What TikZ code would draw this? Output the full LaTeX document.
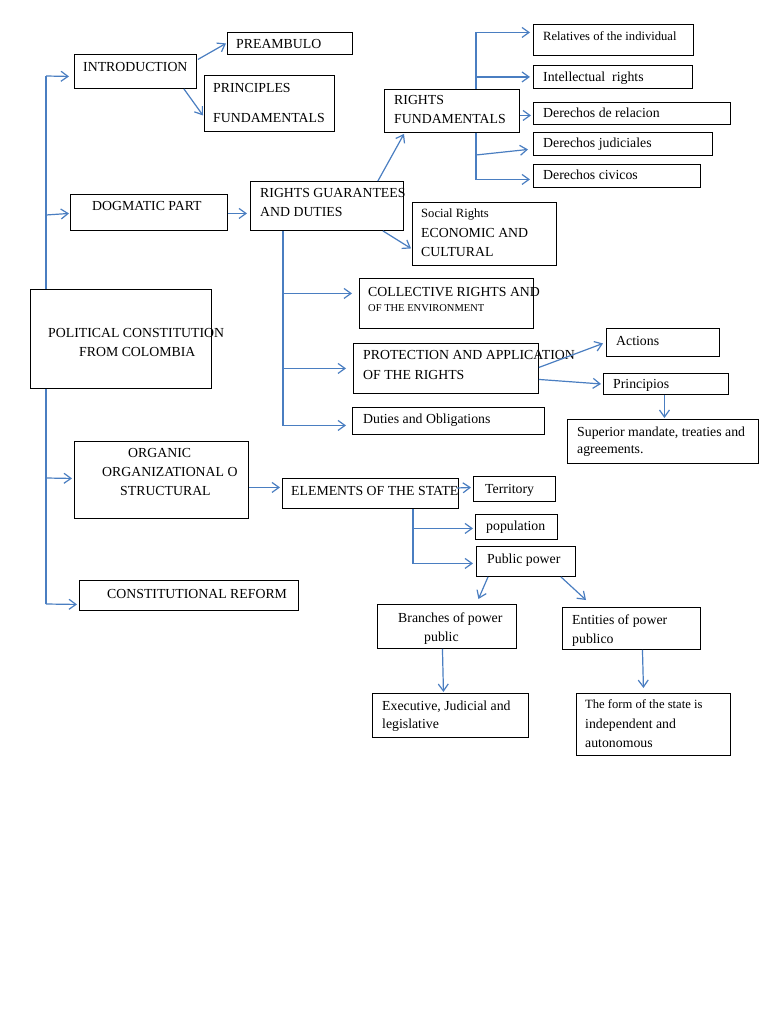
\documentclass[tikz,border=0pt]{standalone}
\usepackage{fontspec}
\setmainfont{Liberation Serif}
\usetikzlibrary{arrows.meta}
\definecolor{conn}{RGB}{74,126,193}
\newcommand\mybox[5]{\node[bx,minimum width=#4pt,minimum height=#5pt] (#1) at (#2,#3) {};}
\begin{document}
\begin{tikzpicture}[x=1pt,y=-1pt,
  bx/.style={draw=black,line width=0.9pt,inner sep=0,anchor=north west},
  txt/.style={font=\fontsize{13.8}{16}\selectfont,inner sep=0,anchor=base west},
  sm/.style={font=\fontsize{12.6}{14}\selectfont,inner sep=0,anchor=base west},
  xs/.style={font=\fontsize{10.5}{12}\selectfont,inner sep=0,anchor=base west},
  ln/.style={draw=conn,line width=1.2pt},
  arr/.style={draw=conn,line width=1.2pt,-{Straight Barb[length=7pt,width=10pt]}}]
\fill[white] (0,0) rectangle (768,1024);
\useasboundingbox (0,0) rectangle (768,1024);
% boxes
\mybox{intro}{74}{54}{122}{34}
\mybox{pream}{227}{32}{125}{22}
\mybox{princ}{204}{75}{130}{56}
\mybox{dogm}{70}{194}{157}{36}
\mybox{rgd}{250}{181}{153}{49}
\mybox{rfund}{384}{89}{135}{43}
\mybox{rel}{533}{24}{160}{31}
\mybox{intel}{533}{65}{159}{23}
\mybox{drel}{533}{102}{197}{22}
\mybox{djud}{533}{132}{179}{23}
\mybox{dciv}{533}{164}{167}{23}
\mybox{social}{412}{202}{144}{63}
\mybox{coll}{359}{278}{174}{50}
\mybox{prot}{353}{343}{185}{50}
\mybox{duties}{352}{407}{192}{27}
\mybox{actions}{606}{328}{113}{28}
\mybox{princip}{603}{373}{125}{21}
\mybox{super}{567}{419}{191}{44}
\mybox{pol}{30}{289}{181}{99}
\mybox{organ}{74}{441}{174}{77}
\mybox{elem}{282}{478}{176}{30}
\mybox{terr}{473}{476}{82}{25}
\mybox{popu}{475}{514}{82}{25}
\mybox{pubp}{476}{546}{99}{30}
\mybox{reform}{79}{580}{219}{30}
\mybox{branch}{377}{604}{139}{44}
\mybox{entit}{562}{607}{138}{42}
\mybox{exec}{372}{693}{156}{44}
\mybox{form}{576}{693}{154}{62}
% texts
\node[txt] (intro-t) at (83,72) {INTRODUCTION};
\node[txt] (pream-t) at (236,49) {PREAMBULO};
\node[txt] (princ-t1) at (213,93) {PRINCIPLES};
\node[txt] (princ-t2) at (213,123) {FUNDAMENTALS};
\node[txt] (dogm-t) at (92,211) {DOGMATIC PART};
\node[txt] (rgd-t1) at (260,198) {RIGHTS GUARANTEES};
\node[txt] (rgd-t2) at (260,217) {AND DUTIES};
\node[txt] (rfund-t1) at (394,105) {RIGHTS};
\node[txt] (rfund-t2) at (394,124) {FUNDAMENTALS};
\node[sm] (rel-t) at (543,41) {Relatives of the individual};
\node[txt] (intel-t) at (543,82) {Intellectual\ \ rights};
\node[txt] (drel-t) at (543,118) {Derechos de relacion};
\node[txt] (djud-t) at (543,148) {Derechos judiciales};
\node[txt] (dciv-t) at (543,180) {Derechos civicos};
\node[sm] (social-t1) at (421,218) {Social Rights};
\node[txt] (social-t2) at (421,237) {ECONOMIC AND};
\node[txt] (social-t3) at (421,256) {CULTURAL};
\node[txt] (coll-t1) at (368,296) {COLLECTIVE RIGHTS AND};
\node[xs] (coll-t2) at (368,311) {OF THE ENVIRONMENT};
\node[txt] (prot-t1) at (363,359) {PROTECTION AND APPLICATION};
\node[txt] (prot-t2) at (363,379) {OF THE RIGHTS};
\node[txt] (duties-t) at (363,423) {Duties and Obligations};
\node[txt] (actions-t) at (616,345) {Actions};
\node[txt] (princip-t) at (613,388) {Principios};
\node[txt] (super-t1) at (577,436) {Superior mandate, treaties and};
\node[txt] (super-t2) at (577,453) {agreements.};
\node[txt] (pol-t1) at (48,337) {POLITICAL CONSTITUTION};
\node[txt] (pol-t2) at (79,356) {FROM COLOMBIA};
\node[txt] (organ-t1) at (128,457) {ORGANIC};
\node[txt] (organ-t2) at (102,476) {ORGANIZATIONAL O};
\node[txt] (organ-t3) at (120,495) {STRUCTURAL};
\node[txt] (elem-t) at (291,495) {ELEMENTS OF THE STATE};
\node[txt] (terr-t) at (485,493) {Territory};
\node[txt] (popu-t) at (486,530) {population};
\node[txt] (pubp-t) at (487,563) {Public power};
\node[txt] (reform-t) at (107,598) {CONSTITUTIONAL REFORM};
\node[txt] (branch-t1) at (398,622) {Branches of power};
\node[txt] (branch-t2) at (424,641) {public};
\node[txt] (entit-t1) at (572,624) {Entities of power};
\node[txt] (entit-t2) at (572,643) {publico};
\node[txt] (exec-t1) at (382,710) {Executive, Judicial and};
\node[txt] (exec-t2) at (382,728) {legislative};
\node[sm] (form-t1) at (585,708) {The form of the state is};
\node[txt] (form-t2) at (585,728) {independent and};
\node[txt] (form-t3) at (585,747) {autonomous};
% trunk
\coordinate (tTop) at (46,76);
\coordinate (tD) at (46,215);
\coordinate (tO) at (46,478);
\coordinate (tBot) at (46,604);
\draw[ln] (tTop) -- (tTop |- pol.north);
\draw[ln] (tTop |- pol.south) -- (tBot);
\draw[arr] (tTop) -- ([xshift=-5pt,yshift=-5pt]intro.west);
\draw[arr] (tD) -- ([xshift=-1pt,yshift=-1pt]dogm.west);
\draw[arr] (tO) -- ([xshift=-2pt,yshift=1.5pt]organ.west);
\draw[arr] (tBot) -- ([xshift=-2pt,yshift=-9pt]reform.west);
% introduction
\draw[arr] ([xshift=1pt,yshift=12pt]intro.east) -- ([xshift=-1pt]pream.west);
\draw[arr] ([xshift=-13pt]intro.south east) -- ([xshift=-1pt,yshift=-12pt]princ.west);
% dogmatic
\draw[arr] ([yshift=-1pt]dogm.east) -- ([xshift=-3pt,yshift=-7.5pt]rgd.west);
\draw[arr] ([xshift=-26pt]rgd.north east) -- ([xshift=20pt,yshift=-1pt]rfund.south west);
\draw[arr] ([xshift=-21pt]rgd.south east) -- ([xshift=-1pt,yshift=-14.5pt]social.west);
\coordinate (rS) at ([xshift=33pt]rgd.south west);
\coordinate (cE) at ([xshift=-7pt,yshift=10pt]coll.west);
\coordinate (pE) at ([xshift=-7pt]prot.west);
\coordinate (dE) at ([xshift=-6pt,yshift=-4.5pt]duties.west);
\draw[arr] (rS) |- (dE);
\draw[arr] (cE -| rS) -- (cE);
\draw[arr] (pE -| rS) -- (pE);
% rights fundamentals
\coordinate (fTop) at (476,32);
\coordinate (relE) at ([xshift=-3pt,yshift=7.5pt]rel.west);
\coordinate (intE) at ([xshift=-3pt]intel.west);
\coordinate (cvE) at ([xshift=-3pt,yshift=-3.5pt]dciv.west);
\coordinate (jS) at (476,155);
\draw[arr] (fTop |- rfund.north) |- (relE);
\draw[arr] (intE -| fTop) -- (intE);
\draw[arr] (fTop |- rfund.south) |- (cvE);
\draw[arr] ([yshift=-4.5pt]rfund.east) -- ([xshift=-2pt,yshift=-2pt]drel.west);
\draw[arr] (jS) -- ([xshift=-5pt,yshift=-5.5pt]djud.west);
% protection
\draw[arr] ([yshift=1pt]prot.east) -- ([xshift=-3pt,yshift=-1pt]actions.west);
\draw[arr] ([yshift=-11pt]prot.east) -- ([xshift=-2pt]princip.west);
\draw[arr] ([xshift=-1.5pt]princip.south) -- ([xshift=1.5pt,yshift=1pt]super.north);
% organic
\draw[arr] ([yshift=-7.5pt]organ.east) -- ([xshift=-2pt,yshift=6pt]elem.west);
\draw[arr] ([xshift=-2pt,yshift=-10pt]elem.north east) -- ([xshift=-2pt,yshift=1.5pt]terr.west);
\coordinate (eS) at ([xshift=131pt]elem.south west);
\coordinate (ppE) at ([xshift=-3pt,yshift=-2pt]pubp.west);
\coordinate (poE) at ([xshift=-2pt,yshift=-1.5pt]popu.west);
\draw[arr] (eS) |- (ppE);
\draw[arr] (poE -| eS) -- (poE);
\draw[arr] ([xshift=12pt]pubp.south west) -- ([xshift=31.5pt,yshift=5pt]branch.north);
\draw[arr] ([xshift=-15pt]pubp.south east) -- ([xshift=24pt,yshift=7pt]entit.north west);
\draw[arr] ([xshift=-4.5pt]branch.south) -- ([xshift=-7pt,yshift=1pt]exec.north);
\draw[arr] ([xshift=11pt]entit.south) -- ([xshift=-10pt,yshift=5pt]form.north);
\end{tikzpicture}
\end{document}
